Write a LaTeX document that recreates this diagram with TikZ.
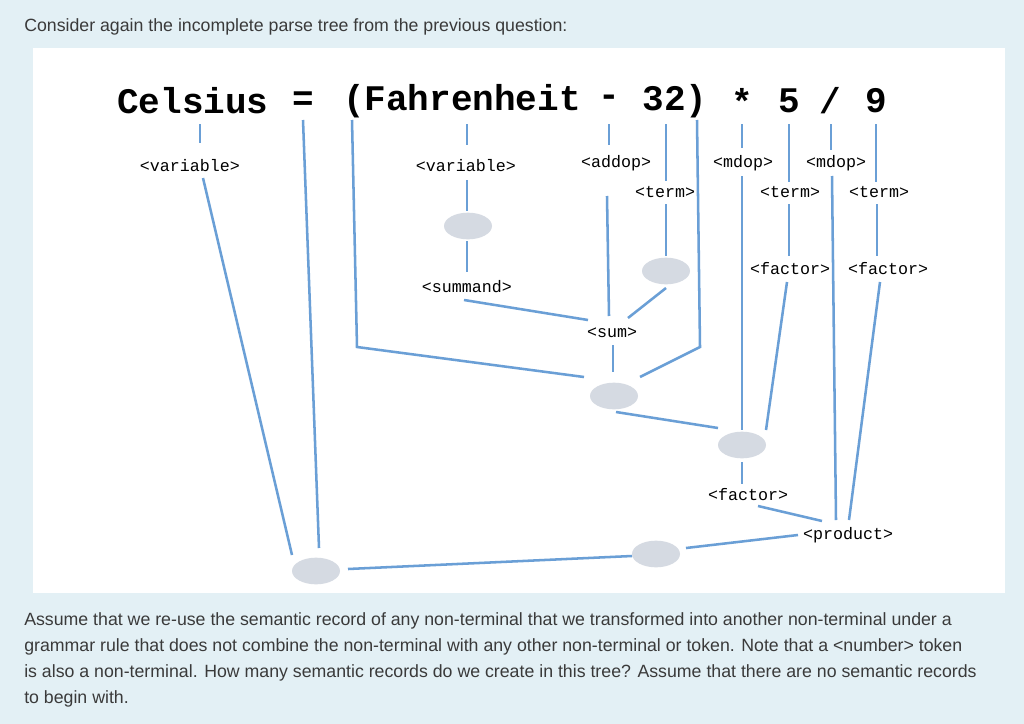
\documentclass[tikz,border=0pt]{standalone}
\usepackage{fontspec}
\usetikzlibrary{shapes.geometric}
\setmainfont{Liberation Sans}
\newfontfamily\bigmono{Liberation Mono}
\newfontfamily\smallmono{Liberation Mono}
\definecolor{bgblue}{HTML}{E3F0F5}
\definecolor{lineblue}{HTML}{6A9FD6}
\definecolor{ellgray}{HTML}{D5DAE2}
\definecolor{txt}{HTML}{3A3A3A}
\begin{document}
\begin{tikzpicture}[x=0.75pt,y=-0.75pt,
  lbl/.style={font=\smallmono\fontsize{12.5}{13}\selectfont,inner sep=0pt},
  tok/.style={font=\bigmono\bfseries\fontsize{27}{28}\selectfont,inner sep=0pt},
  rec/.style={ellipse,fill=ellgray,minimum width=36pt,minimum height=20pt,inner sep=0pt},
  edge/.style={draw=lineblue,line width=1.9pt},
  para/.style={font=\fontsize{13.3}{15}\selectfont,text=txt,anchor=west,inner sep=0pt}]
\useasboundingbox (0,0) rectangle (1024,724);
\fill[bgblue] (0,0) rectangle (1024,724);
\fill[white] (33,48) rectangle (1005,593);
\node[para] (q) at (24,27) {Consider again the incomplete parse tree from the previous question:};
\node[tok] (t1) at (193,101) {Celsius};
\node[tok] (t2) at (303,101) {=};
\node[tok] (t3) at (462,101) {(Fahrenheit};
\node[tok] (t4) at (609,101) {-};
\node[tok] (t5) at (675,101) {32)};
\node[tok] (t6) at (742,101) {*};
\node[tok] (t7) at (789,101) {5};
\node[tok] (t8) at (830,101) {/};
\node[tok] (t9) at (876,101) {9};
\node[lbl] (v1) at (190,166) {<variable>};
\node[lbl] (v2) at (466,166) {<variable>};
\node[lbl] (ad) at (616,163) {<addop>};
\node[lbl] (te1) at (665,192) {<term>};
\node[lbl] (md1) at (743,163) {<mdop>};
\node[lbl] (md2) at (836,163) {<mdop>};
\node[lbl] (te2) at (790,192) {<term>};
\node[lbl] (te3) at (879,192) {<term>};
\node[lbl] (f1) at (790,269) {<factor>};
\node[lbl] (f2) at (888,269) {<factor>};
\node[lbl] (su) at (467,287) {<summand>};
\node[lbl] (sm) at (612,333) {<sum>};
\node[lbl] (f3) at (748,495) {<factor>};
\node[lbl] (pr) at (848,535) {<product>};
\node[rec] (e1) at (468,226) {};
\node[rec] (e2) at (666,271) {};
\node[rec] (e3) at (614,396) {};
\node[rec] (e4) at (742,445) {};
\node[rec] (e5) at (656,554) {};
\node[rec] (e6) at (316,571) {};
\draw[edge] (200,124)--(200,143);
\draw[edge] (203,178)--(292,555);
\draw[edge] (303,120)--(319,548);
\draw[edge] (352,120)--(357,347)--(584,377);
\draw[edge] (467,124)--(467,145);
\draw[edge] (467,180)--(467,211);
\draw[edge] (467,241)--(467,272);
\draw[edge] (464,300)--(588,320);
\draw[edge] (609,124)--(609,145);
\draw[edge] (607,196)--(609,316);
\draw[edge] (613,345)--(613,372);
\draw[edge] (666,124)--(666,181);
\draw[edge] (666,204)--(666,256);
\draw[edge] (666,288)--(628,318);
\draw[edge] (697,120)--(700,347)--(640,377);
\draw[edge] (616,412)--(718,428);
\draw[edge] (742,124)--(742,148);
\draw[edge] (742,176)--(742,430);
\draw[edge] (789,124)--(789,182);
\draw[edge] (789,204)--(789,256);
\draw[edge] (787,282)--(766,430);
\draw[edge] (831,124)--(831,150);
\draw[edge] (832,176)--(836,520);
\draw[edge] (876,124)--(876,182);
\draw[edge] (877,204)--(877,256);
\draw[edge] (880,282)--(849,520);
\draw[edge] (742,462)--(742,484);
\draw[edge] (758,506)--(822,521);
\draw[edge] (798,535)--(686,548);
\draw[edge] (632,556)--(348,569);
\node[para] (p1) at (24,621) {Assume that we re-use the semantic record of any non-terminal that we transformed into another non-terminal under a};
\node[para] (p2) at (24,647) {grammar rule that does not combine the non-terminal with any other non-terminal or token. Note that a <number> token};
\node[para] (p3) at (24,673) {is also a non-terminal. How many semantic records do we create in this tree? Assume that there are no semantic records};
\node[para] (p4) at (24,699) {to begin with.};
\end{tikzpicture}
\end{document}
